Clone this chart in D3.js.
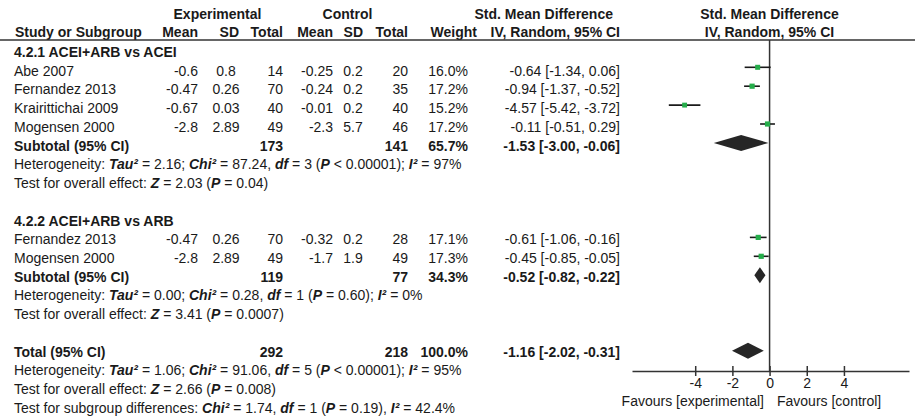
<!DOCTYPE html>
<html><head><meta charset="utf-8">
<script src="https://cdn.jsdelivr.net/npm/d3@7"></script>
<style>
html,body{margin:0;padding:0;background:#fff;}
text{font-family:"Liberation Sans",Arial,sans-serif;fill:#1a1a1a;}
</style></head>
<body><svg id="c" width="923" height="418"></svg>
<script>
// ---- data ----
const studies = ["Abe 2007","Fernandez 2013","Krairittichai 2009","Mogensen 2000","Fernandez 2013","Mogensen 2000"];
const studyRow = [1,2,3,4,10,11];
const expMean = [-0.6,-0.47,-0.67,-2.8,-0.47,-2.8];
const expSD = [0.8,0.26,0.03,2.89,0.26,2.89];
const expN = [14,70,40,49,70,49];
const ctrlMean = [-0.25,-0.24,-0.01,-2.3,-0.32,-1.7];
const ctrlSD = [0.2,0.2,0.2,5.7,0.2,1.9];
const ctrlN = [20,35,40,46,28,49];
const weights = [16.0,17.2,15.2,17.2,17.1,17.3];
const smd = [-0.64,-0.94,-4.57,-0.11,-0.61,-0.45];
const ciLo = [-1.34,-1.37,-5.42,-0.51,-1.06,-0.85];
const ciHi = [0.06,-0.52,-3.72,0.29,-0.16,-0.05];

const groupLabels = ["4.2.1 ACEI+ARB vs ACEI","4.2.2 ACEI+ARB vs ARB"];
const groupRow = [0,9];

const pooledLabels = ["Subtotal (95% CI)","Subtotal (95% CI)","Total (95% CI)"];
const pooledRow = [5,12,16];
const pooledExpN = [173,119,292];
const pooledCtrlN = [141,77,218];
const pooledWeight = [65.7,34.3,100.0];
const pooledEst = [-1.53,-0.52,-1.16];
const pooledLo = [-3.00,-0.82,-2.02];
const pooledHi = [-0.06,-0.22,-0.31];

const axisTicks = [-4,-2,0,2,4];
const favourLeft = "Favours [experimental]";
const favourRight = "Favours [control]";

// text lines: segments [text, styled]
const footLines = [
  {row:6, segs:[["Heterogeneity: ",0],["Tau²",1],[" = 2.16; ",0],["Chi²",1],[" = 87.24, ",0],["df",1],[" = 3 (",0],["P",1],[" < 0.00001); ",0],["I²",1],[" = 97%",0]]},
  {row:7, segs:[["Test for overall effect: ",0],["Z",1],[" = 2.03 (",0],["P",1],[" = 0.04)",0]]},
  {row:13, segs:[["Heterogeneity: ",0],["Tau²",1],[" = 0.00; ",0],["Chi²",1],[" = 0.28, ",0],["df",1],[" = 1 (",0],["P",1],[" = 0.60); ",0],["I²",1],[" = 0%",0]]},
  {row:14, segs:[["Test for overall effect: ",0],["Z",1],[" = 3.41 (",0],["P",1],[" = 0.0007)",0]]},
  {row:17, segs:[["Heterogeneity: ",0],["Tau²",1],[" = 1.06; ",0],["Chi²",1],[" = 91.06, ",0],["df",1],[" = 5 (",0],["P",1],[" < 0.00001); ",0],["I²",1],[" = 95%",0]]},
  {row:18, segs:[["Test for overall effect: ",0],["Z",1],[" = 2.66 (",0],["P",1],[" = 0.008)",0]]},
  {row:19, segs:[["Test for subgroup differences: ",0],["Chi²",1],[" = 1.74, ",0],["df",1],[" = 1 (",0],["P",1],[" = 0.19), ",0],["I²",1],[" = 42.4%",0]]}
];

// ---- layout ----
const svg = d3.select("#c");
const FS = 14;
const base = i => 57 + 18.73*i;        // text baseline of row i
const markY = i => 48.4 + 18.9*i;      // mark centre of row i
const LX = 14;
const col = {em:198, esd:226, en:283, cm:333, csd:353, cn:408, w:468, ci:620};

function txt(x,y,s,opts={}){
  const t = svg.append("text").attr("x",x).attr("y",y).text(s)
    .attr("font-size",opts.fs||FS)
    .attr("text-anchor",opts.anchor||"start");
  if(opts.bold) t.attr("font-weight","bold");
  return t;
}

// headers
txt(217.5,18.5,"Experimental",{bold:1,anchor:"middle"});
txt(347.5,18.5,"Control",{bold:1,anchor:"middle"});
txt(613,18.5,"Std. Mean Difference",{bold:1,anchor:"end"});
txt(769.5,18.5,"Std. Mean Difference",{bold:1,anchor:"middle"});
txt(LX+1,37,"Study or Subgroup",{bold:1});
txt(198,37,"Mean",{bold:1,anchor:"end"});
txt(239,37,"SD",{bold:1,anchor:"end"});
txt(283,37,"Total",{bold:1,anchor:"end"});
txt(333,37,"Mean",{bold:1,anchor:"end"});
txt(363,37,"SD",{bold:1,anchor:"end"});
txt(408,37,"Total",{bold:1,anchor:"end"});
txt(477,37,"Weight",{bold:1,anchor:"end"});
txt(620,37,"IV, Random, 95% CI",{bold:1,anchor:"end"});
txt(769.5,37,"IV, Random, 95% CI",{bold:1,anchor:"middle"});

svg.append("line").attr("x1",0).attr("x2",915).attr("y1",40).attr("y2",40)
  .attr("stroke","#333").attr("stroke-width",1.5);

// group labels
groupLabels.forEach((g,i)=>txt(LX,base(groupRow[i]),g,{bold:1}));

const f2 = v => v.toFixed(2);
// study rows
studies.forEach((s,i)=>{
  const y = base(studyRow[i]);
  txt(LX,y,s);
  txt(col.em,y,String(expMean[i]),{anchor:"end"});
  txt(col.esd,y,String(expSD[i]),{anchor:"middle"});
  txt(col.en,y,String(expN[i]),{anchor:"end"});
  txt(col.cm,y,String(ctrlMean[i]),{anchor:"end"});
  txt(col.csd,y,String(ctrlSD[i]),{anchor:"middle"});
  txt(col.cn,y,String(ctrlN[i]),{anchor:"end"});
  txt(col.w,y,weights[i].toFixed(1)+"%",{anchor:"end"});
  txt(col.ci,y,`${f2(smd[i])} [${f2(ciLo[i])}, ${f2(ciHi[i])}]`,{anchor:"end"});
});
// pooled rows
pooledLabels.forEach((s,i)=>{
  const y = base(pooledRow[i]);
  txt(LX,y,s,{bold:1});
  txt(col.en,y,String(pooledExpN[i]),{anchor:"end",bold:1});
  txt(col.cn,y,String(pooledCtrlN[i]),{anchor:"end",bold:1});
  txt(col.w,y,pooledWeight[i].toFixed(1)+"%",{anchor:"end",bold:1});
  txt(col.ci,y,`${f2(pooledEst[i])} [${f2(pooledLo[i])}, ${f2(pooledHi[i])}]`,{anchor:"end",bold:1});
});
// footnote lines
footLines.forEach(l=>{
  const t = svg.append("text").attr("x",LX).attr("y",base(l.row)).attr("font-size",FS);
  l.segs.forEach(([s,st])=>{
    const sp = t.append("tspan").text(s);
    if(st){sp.attr("font-weight","bold").attr("font-style","italic");}
  });
});

// ---- forest plot ----
const x = d3.scaleLinear().domain([-7.4,7.5]).range([632,909]);
const axisY = 371;
const sq = d3.scaleSqrt().domain([0,20]).range([0,5.6]);
const green = "#25ad4a";

// zero line
svg.append("line").attr("x1",x(0)).attr("x2",x(0)).attr("y1",40).attr("y2",axisY)
  .attr("stroke","#333").attr("stroke-width",1.5);

const g = svg.append("g");
studies.forEach((s,i)=>{
  const y = markY(studyRow[i]);
  g.append("line").attr("x1",x(ciLo[i])).attr("x2",x(ciHi[i])).attr("y1",y).attr("y2",y)
    .attr("stroke","#1a1a1a").attr("stroke-width",1.6);
  const w = sq(weights[i]);
  g.append("rect").attr("x",x(smd[i])-w/2).attr("y",y-w/2).attr("width",w).attr("height",w)
    .attr("fill",green);
});
pooledEst.forEach((e,i)=>{
  const y = markY(pooledRow[i]);
  const h = 8;
  g.append("path").attr("d",`M${x(pooledLo[i])},${y} L${x(e)},${y-h} L${x(pooledHi[i])},${y} L${x(e)},${y+h} Z`)
    .attr("fill","#262626");
});

// axis
const ax = svg.append("g").attr("transform",`translate(0,${axisY})`)
  .call(d3.axisBottom(x).tickValues(axisTicks).tickSize(5).tickSizeOuter(0).tickFormat(d3.format("d")));
ax.select(".domain").attr("stroke","#333").attr("stroke-width",1.5);
ax.selectAll(".tick line").attr("y1",-5).attr("y2",5).attr("stroke","#333").attr("stroke-width",1.5);
ax.selectAll(".tick text").attr("y",17).attr("dy",0).attr("font-size",FS)
  .attr("font-family","Liberation Sans, Arial, sans-serif").attr("fill","#1a1a1a")
  .text(d=>d<0?"-"+Math.abs(d):String(d));
txt(764,406,favourLeft,{anchor:"end"});
txt(777,406,favourRight);
</script></body></html>
